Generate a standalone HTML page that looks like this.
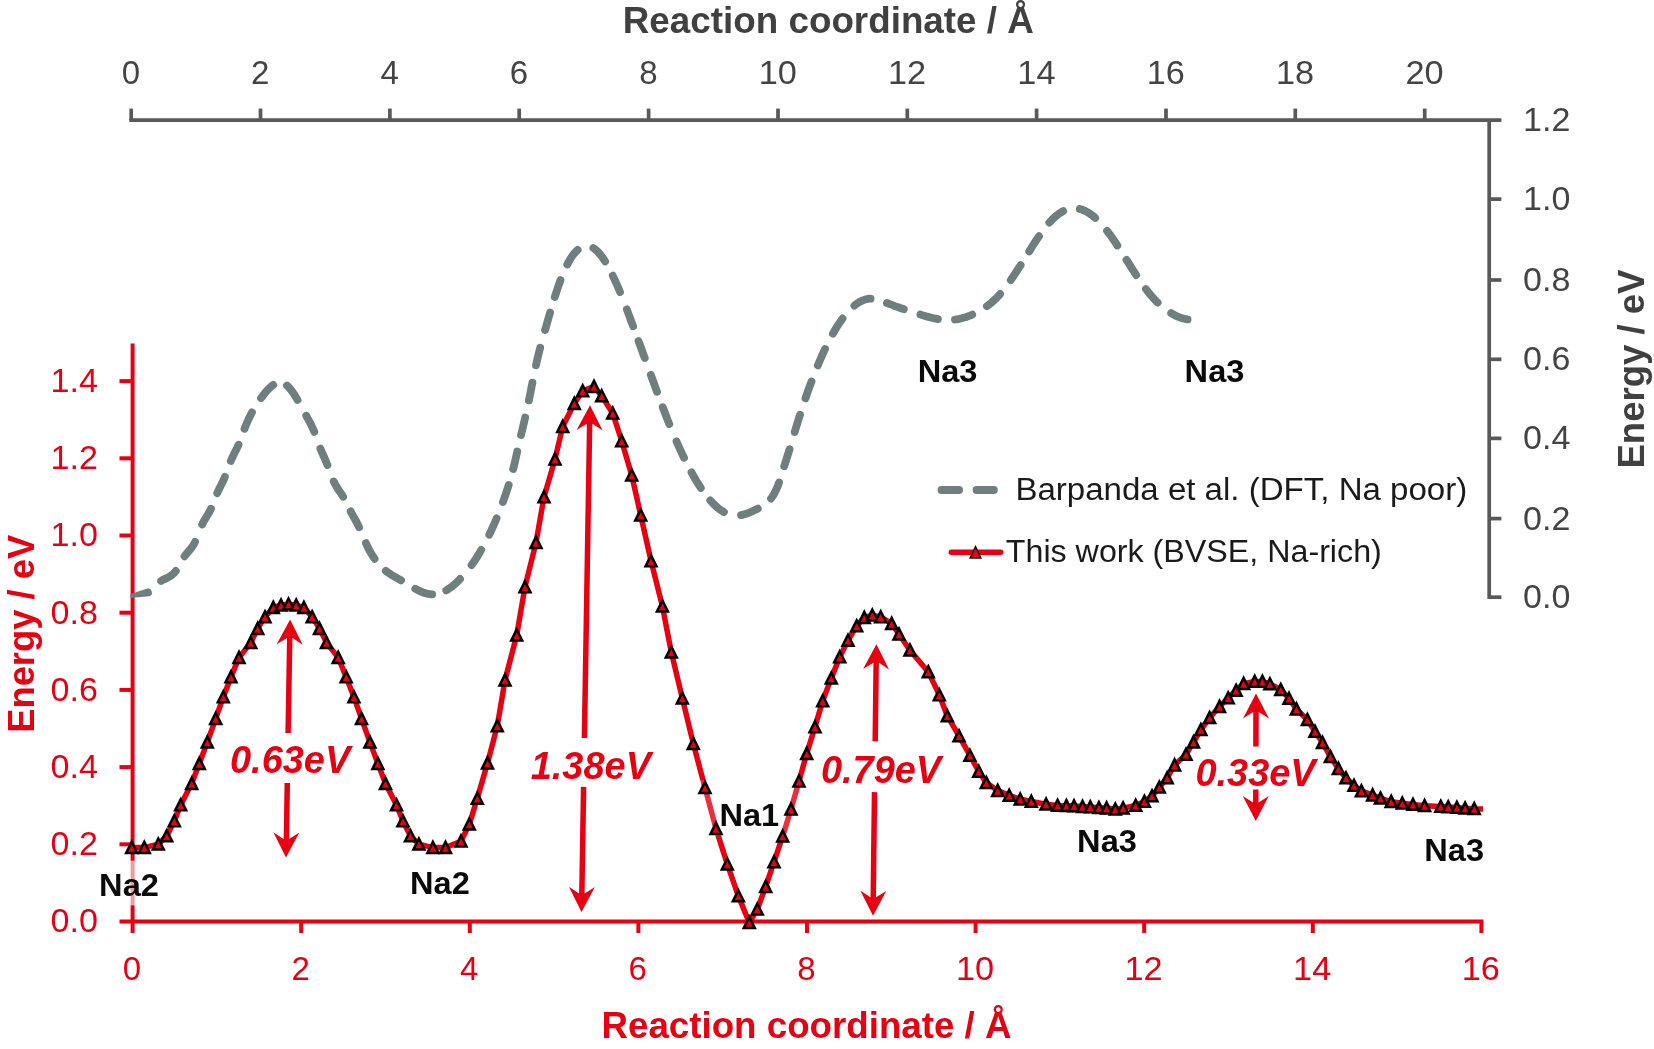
<!DOCTYPE html>
<html lang="en"><head><meta charset="utf-8"><title>Energy profile</title>
<style>html,body{margin:0;padding:0;background:#fff;overflow:hidden}svg{display:block;filter:blur(0.6px)}text{font-family:"Liberation Sans",sans-serif}</style></head><body>
<svg width="1654" height="1049" viewBox="0 0 1654 1049">
<rect width="1654" height="1049" fill="#fff"/>
<g stroke="#595959" stroke-width="3.7" fill="none" stroke-linecap="butt">
<path d="M129.3 120.1H1501.4"/>
<path d="M131.2 108.6V120.1"/>
<path d="M260.5 108.6V120.1"/>
<path d="M389.9 108.6V120.1"/>
<path d="M519.2 108.6V120.1"/>
<path d="M648.6 108.6V120.1"/>
<path d="M778.0 108.6V120.1"/>
<path d="M907.3 108.6V120.1"/>
<path d="M1036.6 108.6V120.1"/>
<path d="M1166.0 108.6V120.1"/>
<path d="M1295.3 108.6V120.1"/>
<path d="M1424.7 108.6V120.1"/>
<path d="M1489.2 120.1V599.1"/>
<path d="M1489.2 597.2H1501.4"/>
<path d="M1489.2 518.6H1501.4"/>
<path d="M1489.2 438.4H1501.4"/>
<path d="M1489.2 359.3H1501.4"/>
<path d="M1489.2 280.0H1501.4"/>
<path d="M1489.2 199.1H1501.4"/>
</g>
<g stroke="#e60012" stroke-width="4.0" fill="none">
<path d="M119.5 921.5H1483.4"/>
<path d="M132.6 343.4V933"/>
<path d="M301.2 921.5V933"/>
<path d="M469.8 921.5V933"/>
<path d="M638.4 921.5V933"/>
<path d="M807.0 921.5V933"/>
<path d="M975.6 921.5V933"/>
<path d="M1144.2 921.5V933"/>
<path d="M1312.8 921.5V933"/>
<path d="M1481.4 921.5V933"/>
<path d="M119.5 844.3H132.6"/>
<path d="M119.5 767.1H132.6"/>
<path d="M119.5 689.9H132.6"/>
<path d="M119.5 612.7H132.6"/>
<path d="M119.5 535.5H132.6"/>
<path d="M119.5 458.3H132.6"/>
<path d="M119.5 381.1H132.6"/>
</g>
<path d="M161.1 580.9L161.5 580.6L163.0 579.8L164.5 579.1L166.0 578.4L167.5 577.7L169.0 576.9L170.5 576.0L172.0 574.9L173.5 573.6L175.0 572.0L176.5 570.1L178.0 567.7L179.5 565.1L181.0 562.3L182.5 559.6L184.0 557.1L185.5 555.0L187.0 553.1L188.5 551.4L190.0 549.7L191.5 547.8L193.0 545.6L194.5 543.0L196.0 539.8L197.5 536.1L199.0 532.2L200.5 528.2L202.0 524.7L203.5 521.7L205.0 519.1L206.5 516.7L208.0 514.3L209.5 511.7L211.0 508.7L212.5 505.2L214.0 501.3L215.5 497.3L217.0 493.6L218.5 490.3L220.0 487.2L221.5 484.3L223.0 481.2L224.5 477.9L226.0 474.1L227.5 469.9L229.0 465.7L230.5 461.7L232.0 458.2L233.5 455.0L235.0 452.0L236.5 449.1L238.0 445.9L239.5 442.3L241.0 438.3L242.5 434.2L244.0 430.1L245.5 426.2L247.0 422.7L248.5 419.3L250.0 416.2L251.5 413.3L253.0 410.5L254.5 407.9L256.0 405.5L257.5 403.2L259.0 401.0L260.5 398.8L262.0 396.8L263.5 394.8L265.0 392.9L266.5 391.2L268.0 389.5L269.5 388.0L271.0 386.6L272.5 385.5L274.0 384.4L275.5 383.6L277.0 383.1L278.5 382.7L280.0 382.6L281.5 382.7L283.0 383.1L284.5 383.7L286.0 384.7L287.5 386.0L289.0 387.5L290.5 389.3L292.0 391.2L293.5 393.4L295.0 395.7L296.5 398.2L298.0 400.8L299.5 403.5L301.0 406.2L302.5 408.9L304.0 411.7L305.5 414.4L307.0 417.1L308.5 419.8L310.0 422.6L311.5 425.6L313.0 428.8L314.5 432.4L316.0 436.4L317.5 440.7L319.0 444.9L320.5 448.8L322.0 452.4L323.5 455.9L325.0 459.2L326.5 462.7L328.0 466.4L329.5 470.5L331.0 474.6L332.5 478.5L334.0 482.0L335.5 484.9L337.0 487.5L338.5 489.8L340.0 491.9L341.5 494.1L343.0 496.5L344.5 499.1L346.0 502.0L347.5 505.1L349.0 508.1L350.5 511.1L352.0 513.9L353.5 516.6L355.0 519.3L356.5 522.0L358.0 524.9L359.5 528.1L361.0 531.5L362.5 535.1L364.0 538.7L365.5 542.2L367.0 545.5L368.5 548.6L370.0 551.4L371.5 554.0L373.0 556.4L374.5 558.7L376.0 560.8L377.5 562.7L379.0 564.5L380.5 566.1L382.0 567.6L383.5 569.0L385.0 570.3L386.5 571.5L388.0 572.6L389.5 573.6L391.0 574.6L392.5 575.5L394.0 576.4L395.5 577.2L397.0 578.1L398.5 578.9L400.0 579.7L401.5 580.6L403.0 581.5L404.5 582.3L406.0 583.3L407.5 584.2L409.0 585.1L410.5 586.0L412.0 586.9L413.5 587.7L415.0 588.6L416.5 589.4L418.0 590.2L419.5 590.9L421.0 591.6L422.5 592.2L424.0 592.7L425.5 593.2L427.0 593.6L428.5 593.9L430.0 594.2L431.5 594.3L433.0 594.3L434.5 594.3L436.0 594.1L437.5 593.8L439.0 593.5L440.5 593.0L442.0 592.4L443.5 591.8L445.0 591.0L446.5 590.2L448.0 589.3L449.5 588.3L451.0 587.2L452.5 586.1L454.0 584.8L455.5 583.5L457.0 582.1L458.5 580.7L460.0 579.1L461.5 577.5L463.0 575.9L464.5 574.1L466.0 572.4L467.5 570.5L469.0 568.6L470.5 566.6L472.0 564.5L473.5 562.3L475.0 560.1L476.5 557.8L478.0 555.4L479.5 552.9L481.0 550.3L482.5 547.7L484.0 545.0L485.5 542.1L487.0 539.2L488.5 536.2L490.0 533.1L491.5 529.9L493.0 526.6L494.5 523.2L496.0 519.7L497.5 516.1L499.0 512.4L500.5 508.6L502.0 504.6L503.5 500.5L505.0 496.3L506.5 491.8L508.0 487.2L509.5 482.5L511.0 477.4L512.5 472.0L514.0 466.0L515.5 459.4L517.0 452.6L518.5 445.9L520.0 439.5L521.5 433.1L523.0 426.8L524.5 420.4L526.0 413.8L527.5 407.0L529.0 399.9L530.5 392.4L532.0 384.8L533.5 377.2L535.0 369.8L536.5 362.8L538.0 356.4L539.5 350.4L541.0 344.6L542.5 339.2L544.0 333.8L545.5 328.6L547.0 323.3L548.5 318.0L550.0 312.9L551.5 307.8L553.0 302.8L554.5 297.9L556.0 293.2L557.5 288.6L559.0 284.3L560.5 280.1L562.0 276.2L563.5 272.6L565.0 269.1L566.5 266.0L568.0 263.0L569.5 260.3L571.0 257.9L572.5 255.7L574.0 253.7L575.5 251.9L577.0 250.4L578.5 249.1L580.0 248.0L581.5 247.1L583.0 246.5L584.5 246.1L586.0 245.9L587.5 245.9L589.0 246.1L590.5 246.6L592.0 247.2L593.5 248.1L595.0 249.2L596.5 250.5L598.0 251.9L599.5 253.6L601.0 255.5L602.5 257.5L604.0 259.7L605.5 262.0L607.0 264.6L608.5 267.2L610.0 270.0L611.5 273.0L613.0 276.1L614.5 279.3L616.0 282.6L617.5 286.0L619.0 289.5L620.5 293.2L622.0 296.9L623.5 300.7L625.0 304.6L626.5 308.5L628.0 312.5L629.5 316.5L631.0 320.6L632.5 324.6L634.0 328.7L635.5 332.8L637.0 336.9L638.5 341.0L640.0 345.1L641.5 349.2L643.0 353.3L644.5 357.4L646.0 361.5L647.5 365.7L649.0 369.8L650.5 374.0L652.0 378.1L653.5 382.2L655.0 386.3L656.5 390.4L658.0 394.5L659.5 398.6L661.0 402.6L662.5 406.6L664.0 410.5L665.5 414.4L667.0 418.3L668.5 422.1L670.0 425.9L671.5 429.5L673.0 433.2L674.5 436.7L676.0 440.2L677.5 443.7L679.0 447.0L680.5 450.3L682.0 453.6L683.5 456.7L685.0 459.8L686.5 462.9L688.0 465.8L689.5 468.7L691.0 471.5L692.5 474.2L694.0 476.9L695.5 479.5L697.0 482.0L698.5 484.4L700.0 486.7L701.5 489.0L703.0 491.1L704.5 493.2L706.0 495.2L707.5 497.1L709.0 498.9L710.5 500.7L712.0 502.3L713.5 503.9L715.0 505.3L716.5 506.7L718.0 508.0L719.5 509.2L721.0 510.2L722.5 511.2L724.0 512.1L725.5 512.9L727.0 513.6L728.5 514.2L730.0 514.7L731.5 515.0L733.0 515.3L734.5 515.5L736.0 515.5L737.5 515.5L739.0 515.4L740.5 515.2L742.0 514.9L743.5 514.6L745.0 514.1L746.5 513.7L748.0 513.1L749.5 512.5L751.0 511.9L752.5 511.2L754.0 510.5L755.5 509.8L757.0 509.1L758.5 508.3L760.0 507.5L761.5 506.8L763.0 505.9L764.5 504.9L766.0 503.8L767.5 502.5L769.0 501.0L770.5 499.3L772.0 497.2L773.5 494.9L775.0 492.1L776.5 489.0L778.0 485.4L779.5 481.3L781.0 476.7L782.5 471.8L784.0 466.9L785.5 462.2L787.0 457.4L788.5 452.7L790.0 447.8L791.5 442.8L793.0 437.7L794.5 432.7L796.0 427.7L797.5 422.8L799.0 418.0L800.5 413.3L802.0 408.7L803.5 404.1L805.0 399.7L806.5 395.3L808.0 391.0L809.5 386.9L811.0 382.8L812.5 378.8L814.0 374.9L815.5 371.0L817.0 367.3L818.5 363.7L820.0 360.2L821.5 356.7L823.0 353.4L824.5 350.1L826.0 347.0L827.5 343.9L829.0 340.9L830.5 338.1L832.0 335.3L833.5 332.6L835.0 330.0L836.5 327.5L838.0 325.1L839.5 322.9L841.0 320.7L842.5 318.6L844.0 316.6L845.5 314.7L847.0 312.9L848.5 311.2L850.0 309.6L851.5 308.1L853.0 306.8L854.5 305.5L856.0 304.3L857.5 303.3L859.0 302.3L860.5 301.5L862.0 300.7L863.5 300.1L865.0 299.6L866.5 299.2L868.0 298.9L869.5 298.7L871.0 298.7L872.5 298.7L874.0 298.9L875.5 299.2L877.0 299.5L878.5 299.9L880.0 300.4L881.5 300.9L883.0 301.5L884.5 302.1L886.0 302.7L887.5 303.2L889.0 303.8L890.5 304.4L892.0 304.9L893.5 305.5L895.0 306.1L896.5 306.6L898.0 307.1L899.5 307.7L901.0 308.2L902.5 308.7L904.0 309.3L905.5 309.8L907.0 310.3L908.5 310.8L910.0 311.3L911.5 311.8L913.0 312.3L914.5 312.7L916.0 313.2L917.5 313.7L919.0 314.2L920.5 314.6L922.0 315.1L923.5 315.6L925.0 316.0L926.5 316.4L928.0 316.8L929.5 317.3L931.0 317.6L932.5 318.0L934.0 318.3L935.5 318.7L937.0 318.9L938.5 319.2L940.0 319.4L941.5 319.6L943.0 319.8L944.5 319.9L946.0 320.0L947.5 320.0L949.0 320.0L950.5 319.9L952.0 319.9L953.5 319.7L955.0 319.5L956.5 319.3L958.0 319.1L959.5 318.8L961.0 318.4L962.5 318.0L964.0 317.6L965.5 317.2L967.0 316.7L968.5 316.1L970.0 315.6L971.5 315.0L973.0 314.3L974.5 313.6L976.0 312.9L977.5 312.1L979.0 311.3L980.5 310.5L982.0 309.6L983.5 308.6L985.0 307.6L986.5 306.5L988.0 305.4L989.5 304.2L991.0 303.0L992.5 301.7L994.0 300.3L995.5 298.9L997.0 297.4L998.5 295.8L1000.0 294.1L1001.5 292.4L1003.0 290.6L1004.5 288.7L1006.0 286.7L1007.5 284.7L1009.0 282.6L1010.5 280.5L1012.0 278.3L1013.5 276.1L1015.0 273.8L1016.5 271.5L1018.0 269.2L1019.5 266.9L1021.0 264.5L1022.5 262.1L1024.0 259.7L1025.5 257.3L1027.0 254.9L1028.5 252.5L1030.0 250.1L1031.5 247.7L1033.0 245.3L1034.5 243.0L1036.0 240.7L1037.5 238.4L1039.0 236.2L1040.5 234.0L1042.0 231.9L1043.5 229.8L1045.0 227.9L1046.5 226.0L1048.0 224.1L1049.5 222.4L1051.0 220.8L1052.5 219.2L1054.0 217.8L1055.5 216.4L1057.0 215.2L1058.5 214.0L1060.0 213.0L1061.5 212.1L1063.0 211.2L1064.5 210.5L1066.0 209.8L1067.5 209.3L1069.0 208.9L1070.5 208.5L1072.0 208.3L1073.5 208.2L1075.0 208.2L1076.5 208.3L1078.0 208.6L1079.5 208.9L1081.0 209.3L1082.5 209.8L1084.0 210.4L1085.5 211.1L1087.0 211.9L1088.5 212.8L1090.0 213.8L1091.5 214.9L1093.0 216.0L1094.5 217.3L1096.0 218.6L1097.5 220.0L1099.0 221.5L1100.5 223.1L1102.0 224.7L1103.5 226.5L1105.0 228.3L1106.5 230.1L1108.0 232.1L1109.5 234.1L1111.0 236.1L1112.5 238.3L1114.0 240.4L1115.5 242.7L1117.0 244.9L1118.5 247.2L1120.0 249.5L1121.5 251.9L1123.0 254.2L1124.5 256.6L1126.0 259.0L1127.5 261.4L1129.0 263.8L1130.5 266.2L1132.0 268.6L1133.5 270.9L1135.0 273.2L1136.5 275.5L1138.0 277.8L1139.5 280.1L1141.0 282.2L1142.5 284.4L1144.0 286.5L1145.5 288.5L1147.0 290.5L1148.5 292.4L1150.0 294.2L1151.5 296.0L1153.0 297.7L1154.5 299.3L1156.0 300.9L1157.5 302.4L1159.0 303.9L1160.5 305.2L1162.0 306.6L1163.5 307.8L1165.0 309.0L1166.5 310.1L1168.0 311.2L1169.5 312.2L1171.0 313.1L1172.5 314.0L1174.0 314.8L1175.5 315.6L1177.0 316.3L1178.5 316.9L1180.0 317.5L1181.5 318.0L1183.0 318.4L1184.5 318.8L1186.0 319.1L1187.5 319.4L1187.9 319.4" fill="none" stroke="#6f7f80" stroke-width="7.8" stroke-linecap="round" stroke-linejoin="round" stroke-dasharray="18.0 17.0 18.0 18.8 18.0 16.8 18.0 17.0 18.0 17.0 18.0 17.0 18.0 15.0 18.0 18.0 18.0 17.8 18.0 17.5 18.0 16.5 18.0 17.2 18.0 16.5 18.0 16.5 18.0 14.8 18.0 18.0 18.0 17.2 18.0 17.5 18.0 16.5 18.0 17.0 18.0 17.5 18.0 17.8 18.0 18.5 18.0 16.2 18.0 17.0 18.0 17.2 18.0 16.2 18.0 18.5 18.0 15.8 18.0 18.0 18.0 16.5 18.0 18.8 18.0 16.5 18.0 15.8 18.0 17.8 18.0 16.8 18.0 17.0 18.0 18.0 18.0 17.2 18.0 17.2 18.0 17.2 18.0 17.5 18.0 17.0 18.0 17.5 18.0 17.2 18.0 17.0 18.0 17.5 18.0 16.2 18.0 17.2 18.0 17.2 18.0 17.5 18.0 17.0 18.0 17.0 18.0 17.2 17.7 50.0"/>
<path d="M130.4 594.1L146.6 588.7A4 4 0 0 1 149.2 596.3L130.4 598.1Z" fill="#6f7f80"/>
<path d="M131.7 847.6L144.3 847.6L158.3 844.2L166.7 835.9L174.3 820.9L180.7 804.9L191.7 783.6L199.3 763.6L207.3 742.2L215.7 718.6L223.3 696.9L231.0 676.9L239.0 657.6L250.7 642.6L257.7 628.6L265.0 616.9L273.3 607.6L281.0 605.2L288.5 604.2L296.2 605.2L303.9 607.6L312.2 616.9L319.5 628.6L326.5 642.6L338.2 657.6L346.2 676.9L353.9 696.9L361.5 718.6L369.9 742.2L377.9 763.6L385.5 783.6L396.5 804.9L402.9 820.9L410.5 835.9L418.9 844.2L432.9 847.6L445.5 847.6L461.0 841.2L469.3 824.2L477.3 798.4L487.5 763.1L497.3 725.9L505.0 680.2L516.7 635.2L525.0 586.9L536.0 542.6L544.0 496.9L555.0 459.2L562.7 426.6L574.3 403.6L582.7 390.9L594.0 386.6L601.7 395.9L612.7 413.2L621.7 440.9L631.7 475.2L640.7 515.2L651.0 560.9L662.4 606.2L671.3 652.2L682.3 698.2L693.3 743.6L705.0 787.6L716.0 828.6L727.3 864.2L738.3 895.9L749.3 922.6L757.3 909.2L765.7 886.6L774.0 861.9L782.7 836.2L791.0 809.2L799.0 781.2L806.7 753.6L815.0 726.9L822.7 700.9L831.3 678.2L839.7 656.9L848.0 640.5L856.7 625.9L864.3 617.6L872.3 615.2L880.7 616.9L891.7 623.6L899.0 634.2L910.0 650.2L928.3 671.9L939.3 694.9L947.3 715.9L959.0 735.9L969.9 755.4L978.7 771.4L986.3 782.8L997.7 790.6L1009.2 795.4L1020.2 799.2L1031.3 801.5L1046.1 804.2L1057.6 805.5L1066.4 805.7L1074.0 805.9L1082.5 806.6L1090.3 806.9L1098.9 807.7L1106.6 808.1L1115.3 809.2L1123.1 808.1L1135.7 805.5L1144.4 801.5L1152.0 795.9L1159.3 787.3L1167.2 777.9L1174.6 765.1L1186.0 754.5L1193.5 742.1L1200.9 729.7L1209.6 717.8L1219.5 706.6L1228.2 697.9L1236.1 690.5L1243.6 683.6L1254.7 681.5L1262.4 681.5L1269.9 683.9L1280.8 689.7L1289.0 698.4L1296.4 709.1L1307.4 719.7L1315.0 731.4L1322.5 742.6L1330.4 756.7L1338.4 768.6L1346.0 778.0L1354.0 785.5L1361.4 790.9L1372.6 795.1L1380.5 798.3L1391.2 801.6L1402.3 803.3L1413.0 804.5L1424.6 805.8L1440.8 806.5L1448.2 807.0L1456.9 807.5L1465.1 808.3L1474.2 808.8L1483.0 808.9" fill="none" stroke="#e60012" stroke-width="5.5" stroke-linejoin="round" stroke-linecap="butt"/>
<path d="M289.8 634.5L288.1 733.0M287.3 783.0L286.3 842.4" stroke="#e60012" stroke-width="5.5" fill="none"/><path d="M290.1 619.5L302.7 644.7L292.6 638.0L287.0 637.9L276.7 644.3ZM286.0 857.4L273.4 832.2L283.5 838.9L289.1 839.0L299.4 832.6Z" fill="#e60012"/>
<path d="M589.7 420.2L584.4 738.0M583.6 786.9L581.8 896.9" stroke="#e60012" stroke-width="5.5" fill="none"/><path d="M590.0 405.2L602.6 430.4L592.5 423.7L586.9 423.7L576.6 430.0ZM581.5 911.9L568.9 886.7L579.0 893.4L584.6 893.4L594.9 887.1Z" fill="#e60012"/>
<path d="M876.2 659.2L875.2 741.3M874.5 792.1L873.2 900.7" stroke="#e60012" stroke-width="5.5" fill="none"/><path d="M876.4 644.2L889.1 669.4L879.0 662.7L873.4 662.7L863.1 669.0ZM873.0 915.7L860.3 890.5L870.4 897.2L876.0 897.2L886.3 890.9Z" fill="#e60012"/>
<path d="M1256.0 708.4L1255.9 746.5M1255.8 789.4L1255.8 805.9" stroke="#e60012" stroke-width="5.5" fill="none"/><path d="M1256.0 693.4L1269.0 718.4L1258.8 711.9L1253.2 711.9L1243.0 718.4ZM1255.8 820.9L1242.8 795.9L1253.0 802.4L1258.6 802.4L1268.8 795.9Z" fill="#e60012"/>
<rect x="96" y="860.6" width="67" height="44.8" fill="#fff" fill-opacity="0.6"/>
<rect x="697" y="780" width="112" height="56" fill="#fff" fill-opacity="0.18"/>
<g fill="#e60012" stroke="#000" stroke-width="2.5">
<path d="M131.7 841.9L137.2 852.9H126.2Z"/><path d="M144.3 841.9L149.8 852.9H138.8Z"/><path d="M158.3 838.5L163.8 849.5H152.8Z"/><path d="M166.7 830.2L172.2 841.2H161.2Z"/><path d="M174.3 815.2L179.8 826.2H168.8Z"/><path d="M180.7 799.2L186.2 810.2H175.2Z"/><path d="M191.7 777.9L197.2 788.9H186.2Z"/><path d="M199.3 757.9L204.8 768.9H193.8Z"/><path d="M207.3 736.5L212.8 747.5H201.8Z"/><path d="M215.7 712.9L221.2 723.9H210.2Z"/><path d="M223.3 691.2L228.8 702.2H217.8Z"/><path d="M231.0 671.2L236.5 682.2H225.5Z"/><path d="M239.0 651.9L244.5 662.9H233.5Z"/><path d="M250.7 636.9L256.2 647.9H245.2Z"/><path d="M257.7 622.9L263.2 633.9H252.2Z"/><path d="M265.0 611.2L270.5 622.2H259.5Z"/><path d="M273.3 601.9L278.8 612.9H267.8Z"/><path d="M281.0 599.5L286.5 610.5H275.5Z"/><path d="M288.5 598.5L294.0 609.5H283.0Z"/><path d="M296.2 599.5L301.7 610.5H290.7Z"/><path d="M303.9 601.9L309.4 612.9H298.4Z"/><path d="M312.2 611.2L317.7 622.2H306.7Z"/><path d="M319.5 622.9L325.0 633.9H314.0Z"/><path d="M326.5 636.9L332.0 647.9H321.0Z"/><path d="M338.2 651.9L343.7 662.9H332.7Z"/><path d="M346.2 671.2L351.7 682.2H340.7Z"/><path d="M353.9 691.2L359.4 702.2H348.4Z"/><path d="M361.5 712.9L367.0 723.9H356.0Z"/><path d="M369.9 736.5L375.4 747.5H364.4Z"/><path d="M377.9 757.9L383.4 768.9H372.4Z"/><path d="M385.5 777.9L391.0 788.9H380.0Z"/><path d="M396.5 799.2L402.0 810.2H391.0Z"/><path d="M402.9 815.2L408.4 826.2H397.4Z"/><path d="M410.5 830.2L416.0 841.2H405.0Z"/><path d="M418.9 838.5L424.4 849.5H413.4Z"/><path d="M432.9 841.9L438.4 852.9H427.4Z"/><path d="M445.5 841.9L451.0 852.9H440.0Z"/><path d="M461.0 835.5L466.5 846.5H455.5Z"/><path d="M469.3 818.5L474.8 829.5H463.8Z"/><path d="M477.3 792.7L482.8 803.7H471.8Z"/><path d="M487.5 757.4L493.0 768.4H482.0Z"/><path d="M497.3 720.2L502.8 731.2H491.8Z"/><path d="M505.0 674.5L510.5 685.5H499.5Z"/><path d="M516.7 629.5L522.2 640.5H511.2Z"/><path d="M525.0 581.2L530.5 592.2H519.5Z"/><path d="M536.0 536.9L541.5 547.9H530.5Z"/><path d="M544.0 491.2L549.5 502.2H538.5Z"/><path d="M555.0 453.5L560.5 464.5H549.5Z"/><path d="M562.7 420.9L568.2 431.9H557.2Z"/><path d="M574.3 397.9L579.8 408.9H568.8Z"/><path d="M582.7 385.2L588.2 396.2H577.2Z"/><path d="M594.0 380.9L599.5 391.9H588.5Z"/><path d="M601.7 390.2L607.2 401.2H596.2Z"/><path d="M612.7 407.5L618.2 418.5H607.2Z"/><path d="M621.7 435.2L627.2 446.2H616.2Z"/><path d="M631.7 469.5L637.2 480.5H626.2Z"/><path d="M640.7 509.5L646.2 520.5H635.2Z"/><path d="M651.0 555.2L656.5 566.2H645.5Z"/><path d="M662.4 600.5L667.9 611.5H656.9Z"/><path d="M671.3 646.5L676.8 657.5H665.8Z"/><path d="M682.3 692.5L687.8 703.5H676.8Z"/><path d="M693.3 737.9L698.8 748.9H687.8Z"/><path d="M705.0 781.9L710.5 792.9H699.5Z"/><path d="M716.0 822.9L721.5 833.9H710.5Z"/><path d="M727.3 858.5L732.8 869.5H721.8Z"/><path d="M738.3 890.2L743.8 901.2H732.8Z"/><path d="M749.3 916.9L754.8 927.9H743.8Z"/><path d="M757.3 903.5L762.8 914.5H751.8Z"/><path d="M765.7 880.9L771.2 891.9H760.2Z"/><path d="M774.0 856.2L779.5 867.2H768.5Z"/><path d="M782.7 830.5L788.2 841.5H777.2Z"/><path d="M791.0 803.5L796.5 814.5H785.5Z"/><path d="M799.0 775.5L804.5 786.5H793.5Z"/><path d="M806.7 747.9L812.2 758.9H801.2Z"/><path d="M815.0 721.2L820.5 732.2H809.5Z"/><path d="M822.7 695.2L828.2 706.2H817.2Z"/><path d="M831.3 672.5L836.8 683.5H825.8Z"/><path d="M839.7 651.2L845.2 662.2H834.2Z"/><path d="M848.0 634.8L853.5 645.8H842.5Z"/><path d="M856.7 620.2L862.2 631.2H851.2Z"/><path d="M864.3 611.9L869.8 622.9H858.8Z"/><path d="M872.3 609.5L877.8 620.5H866.8Z"/><path d="M880.7 611.2L886.2 622.2H875.2Z"/><path d="M891.7 617.9L897.2 628.9H886.2Z"/><path d="M899.0 628.5L904.5 639.5H893.5Z"/><path d="M910.0 644.5L915.5 655.5H904.5Z"/><path d="M928.3 666.2L933.8 677.2H922.8Z"/><path d="M939.3 689.2L944.8 700.2H933.8Z"/><path d="M947.3 710.2L952.8 721.2H941.8Z"/><path d="M959.0 730.2L964.5 741.2H953.5Z"/><path d="M969.9 749.7L975.4 760.7H964.4Z"/><path d="M978.7 765.7L984.2 776.7H973.2Z"/><path d="M986.3 777.1L991.8 788.1H980.8Z"/><path d="M997.7 784.9L1003.2 795.9H992.2Z"/><path d="M1009.2 789.7L1014.7 800.7H1003.7Z"/><path d="M1020.2 793.5L1025.7 804.5H1014.7Z"/><path d="M1031.3 795.8L1036.8 806.8H1025.8Z"/><path d="M1046.1 798.5L1051.6 809.5H1040.6Z"/><path d="M1057.6 799.8L1063.1 810.8H1052.1Z"/><path d="M1066.4 800.0L1071.9 811.0H1060.9Z"/><path d="M1074.0 800.2L1079.5 811.2H1068.5Z"/><path d="M1082.5 800.9L1088.0 811.9H1077.0Z"/><path d="M1090.3 801.2L1095.8 812.2H1084.8Z"/><path d="M1098.9 802.0L1104.4 813.0H1093.4Z"/><path d="M1106.6 802.4L1112.1 813.4H1101.1Z"/><path d="M1115.3 803.5L1120.8 814.5H1109.8Z"/><path d="M1123.1 802.4L1128.6 813.4H1117.6Z"/><path d="M1135.7 799.8L1141.2 810.8H1130.2Z"/><path d="M1144.4 795.8L1149.9 806.8H1138.9Z"/><path d="M1152.0 790.2L1157.5 801.2H1146.5Z"/><path d="M1159.3 781.6L1164.8 792.6H1153.8Z"/><path d="M1167.2 772.2L1172.7 783.2H1161.7Z"/><path d="M1174.6 759.4L1180.1 770.4H1169.1Z"/><path d="M1186.0 748.8L1191.5 759.8H1180.5Z"/><path d="M1193.5 736.4L1199.0 747.4H1188.0Z"/><path d="M1200.9 724.0L1206.4 735.0H1195.4Z"/><path d="M1209.6 712.1L1215.1 723.1H1204.1Z"/><path d="M1219.5 700.9L1225.0 711.9H1214.0Z"/><path d="M1228.2 692.2L1233.7 703.2H1222.7Z"/><path d="M1236.1 684.8L1241.6 695.8H1230.6Z"/><path d="M1243.6 677.9L1249.1 688.9H1238.1Z"/><path d="M1254.7 675.8L1260.2 686.8H1249.2Z"/><path d="M1262.4 675.8L1267.9 686.8H1256.9Z"/><path d="M1269.9 678.2L1275.4 689.2H1264.4Z"/><path d="M1280.8 684.0L1286.3 695.0H1275.3Z"/><path d="M1289.0 692.7L1294.5 703.7H1283.5Z"/><path d="M1296.4 703.4L1301.9 714.4H1290.9Z"/><path d="M1307.4 714.0L1312.9 725.0H1301.9Z"/><path d="M1315.0 725.7L1320.5 736.7H1309.5Z"/><path d="M1322.5 736.9L1328.0 747.9H1317.0Z"/><path d="M1330.4 751.0L1335.9 762.0H1324.9Z"/><path d="M1338.4 762.9L1343.9 773.9H1332.9Z"/><path d="M1346.0 772.3L1351.5 783.3H1340.5Z"/><path d="M1354.0 779.8L1359.5 790.8H1348.5Z"/><path d="M1361.4 785.2L1366.9 796.2H1355.9Z"/><path d="M1372.6 789.4L1378.1 800.4H1367.1Z"/><path d="M1380.5 792.6L1386.0 803.6H1375.0Z"/><path d="M1391.2 795.9L1396.7 806.9H1385.7Z"/><path d="M1402.3 797.6L1407.8 808.6H1396.8Z"/><path d="M1413.0 798.8L1418.5 809.8H1407.5Z"/><path d="M1424.6 800.1L1430.1 811.1H1419.1Z"/><path d="M1440.8 800.8L1446.3 811.8H1435.3Z"/><path d="M1448.2 801.3L1453.7 812.3H1442.7Z"/><path d="M1456.9 801.8L1462.4 812.8H1451.4Z"/><path d="M1465.1 802.6L1470.6 813.6H1459.6Z"/><path d="M1474.2 803.1L1479.7 814.1H1468.7Z"/>
</g>
<path d="M941.6 490H959M976.6 490H993.8" stroke="#6f7f80" stroke-width="8" stroke-linecap="round" fill="none"/>
<path d="M951.3 552.2H1000.7" stroke="#e60012" stroke-width="5.4" stroke-linecap="round" fill="none"/>
<path d="M975.5 546.6L981 558H970Z" fill="#e60012" stroke="#111" stroke-width="1.4"/>
<text x="622.8" y="33.3" font-size="36.8" fill="#404040" font-weight="bold" textLength="411" lengthAdjust="spacingAndGlyphs">Reaction coordinate / Å</text>
<text x="601.5" y="1037.6" font-size="36.8" fill="#e60012" font-weight="bold" textLength="410" lengthAdjust="spacingAndGlyphs">Reaction coordinate / Å</text>
<text x="34.3" y="732.8" font-size="36.8" fill="#e60012" font-weight="bold" textLength="198" lengthAdjust="spacingAndGlyphs" transform="rotate(-90 34.3 732.8)">Energy / eV</text>
<text x="1643.5" y="468.5" font-size="36.8" fill="#404040" font-weight="bold" textLength="199" lengthAdjust="spacingAndGlyphs" transform="rotate(-90 1643.5 468.5)">Energy / eV</text>
<text x="131.0" y="83.6" font-size="33" fill="#444444" text-anchor="middle">0</text>
<text x="260.3" y="83.6" font-size="33" fill="#444444" text-anchor="middle">2</text>
<text x="389.7" y="83.6" font-size="33" fill="#444444" text-anchor="middle">4</text>
<text x="519.0" y="83.6" font-size="33" fill="#444444" text-anchor="middle">6</text>
<text x="648.4" y="83.6" font-size="33" fill="#444444" text-anchor="middle">8</text>
<text x="777.8" y="83.6" font-size="33" fill="#444444" text-anchor="middle" textLength="38.2" lengthAdjust="spacingAndGlyphs">10</text>
<text x="907.1" y="83.6" font-size="33" fill="#444444" text-anchor="middle" textLength="38.2" lengthAdjust="spacingAndGlyphs">12</text>
<text x="1036.4" y="83.6" font-size="33" fill="#444444" text-anchor="middle" textLength="38.2" lengthAdjust="spacingAndGlyphs">14</text>
<text x="1165.8" y="83.6" font-size="33" fill="#444444" text-anchor="middle" textLength="38.2" lengthAdjust="spacingAndGlyphs">16</text>
<text x="1295.1" y="83.6" font-size="33" fill="#444444" text-anchor="middle" textLength="38.2" lengthAdjust="spacingAndGlyphs">18</text>
<text x="1424.5" y="83.6" font-size="33" fill="#444444" text-anchor="middle" textLength="38.2" lengthAdjust="spacingAndGlyphs">20</text>
<text x="132.0" y="980.2" font-size="33" fill="#e60012" text-anchor="middle">0</text>
<text x="300.6" y="980.2" font-size="33" fill="#e60012" text-anchor="middle">2</text>
<text x="469.2" y="980.2" font-size="33" fill="#e60012" text-anchor="middle">4</text>
<text x="637.8" y="980.2" font-size="33" fill="#e60012" text-anchor="middle">6</text>
<text x="806.4" y="980.2" font-size="33" fill="#e60012" text-anchor="middle">8</text>
<text x="975.0" y="980.2" font-size="33" fill="#e60012" text-anchor="middle" textLength="38.2" lengthAdjust="spacingAndGlyphs">10</text>
<text x="1143.6" y="980.2" font-size="33" fill="#e60012" text-anchor="middle" textLength="38.2" lengthAdjust="spacingAndGlyphs">12</text>
<text x="1312.2" y="980.2" font-size="33" fill="#e60012" text-anchor="middle" textLength="38.2" lengthAdjust="spacingAndGlyphs">14</text>
<text x="1480.8" y="980.2" font-size="33" fill="#e60012" text-anchor="middle" textLength="38.2" lengthAdjust="spacingAndGlyphs">16</text>
<text x="50.6" y="932.3" font-size="33" fill="#e60012" textLength="47.4" lengthAdjust="spacingAndGlyphs">0.0</text>
<text x="50.6" y="855.1" font-size="33" fill="#e60012" textLength="47.4" lengthAdjust="spacingAndGlyphs">0.2</text>
<text x="50.6" y="777.9" font-size="33" fill="#e60012" textLength="47.4" lengthAdjust="spacingAndGlyphs">0.4</text>
<text x="50.6" y="700.7" font-size="33" fill="#e60012" textLength="47.4" lengthAdjust="spacingAndGlyphs">0.6</text>
<text x="50.6" y="623.5" font-size="33" fill="#e60012" textLength="47.4" lengthAdjust="spacingAndGlyphs">0.8</text>
<text x="50.6" y="546.3" font-size="33" fill="#e60012" textLength="47.4" lengthAdjust="spacingAndGlyphs">1.0</text>
<text x="50.6" y="469.1" font-size="33" fill="#e60012" textLength="47.4" lengthAdjust="spacingAndGlyphs">1.2</text>
<text x="50.6" y="391.9" font-size="33" fill="#e60012" textLength="47.4" lengthAdjust="spacingAndGlyphs">1.4</text>
<text x="1523.1" y="608.1" font-size="33" fill="#444444" textLength="47.3" lengthAdjust="spacingAndGlyphs">0.0</text>
<text x="1523.1" y="529.5" font-size="33" fill="#444444" textLength="47.3" lengthAdjust="spacingAndGlyphs">0.2</text>
<text x="1523.1" y="449.3" font-size="33" fill="#444444" textLength="47.3" lengthAdjust="spacingAndGlyphs">0.4</text>
<text x="1523.1" y="370.2" font-size="33" fill="#444444" textLength="47.3" lengthAdjust="spacingAndGlyphs">0.6</text>
<text x="1523.1" y="290.9" font-size="33" fill="#444444" textLength="47.3" lengthAdjust="spacingAndGlyphs">0.8</text>
<text x="1523.1" y="210.0" font-size="33" fill="#444444" textLength="47.3" lengthAdjust="spacingAndGlyphs">1.0</text>
<text x="1523.1" y="131.0" font-size="33" fill="#444444" textLength="47.3" lengthAdjust="spacingAndGlyphs">1.2</text>
<text x="230" y="773" font-size="38.6" fill="#e60012" font-weight="bold" font-style="italic" textLength="120.3" lengthAdjust="spacingAndGlyphs">0.63eV</text>
<text x="530.7" y="778.8" font-size="38.6" fill="#e60012" font-weight="bold" font-style="italic" textLength="120.3" lengthAdjust="spacingAndGlyphs">1.38eV</text>
<text x="820.9" y="783" font-size="38.6" fill="#e60012" font-weight="bold" font-style="italic" textLength="120.3" lengthAdjust="spacingAndGlyphs">0.79eV</text>
<text x="1195.4" y="786.3" font-size="38.6" fill="#e60012" font-weight="bold" font-style="italic" textLength="120.3" lengthAdjust="spacingAndGlyphs">0.33eV</text>
<text x="99.1" y="895.7" font-size="31.5" fill="#0a0a0a" font-weight="bold" textLength="59.8" lengthAdjust="spacingAndGlyphs">Na2</text>
<text x="410.0" y="894.4" font-size="31.5" fill="#0a0a0a" font-weight="bold" textLength="59.8" lengthAdjust="spacingAndGlyphs">Na2</text>
<text x="719.4" y="826.2" font-size="31.5" fill="#0a0a0a" font-weight="bold" textLength="59.8" lengthAdjust="spacingAndGlyphs">Na1</text>
<text x="917.7" y="381.6" font-size="31.5" fill="#0a0a0a" font-weight="bold" textLength="59.8" lengthAdjust="spacingAndGlyphs">Na3</text>
<text x="1184.6" y="381.6" font-size="31.5" fill="#0a0a0a" font-weight="bold" textLength="59.8" lengthAdjust="spacingAndGlyphs">Na3</text>
<text x="1077.1" y="851.5" font-size="31.5" fill="#0a0a0a" font-weight="bold" textLength="59.8" lengthAdjust="spacingAndGlyphs">Na3</text>
<text x="1424.3" y="860.9" font-size="31.5" fill="#0a0a0a" font-weight="bold" textLength="59.8" lengthAdjust="spacingAndGlyphs">Na3</text>
<text x="1015.4" y="500.3" font-size="31" fill="#1a1a1a" textLength="451.8" lengthAdjust="spacingAndGlyphs">Barpanda et al. (DFT, Na poor)</text>
<text x="1005.8" y="562.4" font-size="31" fill="#1a1a1a" textLength="376" lengthAdjust="spacingAndGlyphs">This work (BVSE, Na-rich)</text>
</svg></body></html>
